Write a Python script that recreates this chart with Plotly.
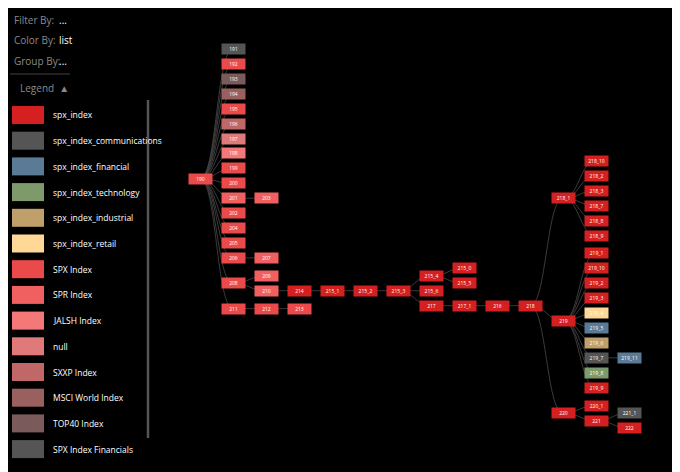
import plotly.graph_objects as go

# tree edges (parent -> child)
parents = ["190"] * 17 + ["201", "206", "208", "208", "210", "211", "212",
           "214", "215_1", "215_2", "215_3", "215_3", "215_3", "215_4", "215_4",
           "217", "217_1", "216", "218", "218", "218"] + ["218_1"] * 6 + ["219"] * 10 + \
          ["219_7", "220", "220", "221", "221"]
children = ["191", "192", "193", "194", "195", "196", "197", "198", "199", "200", "201",
            "202", "204", "205", "206", "208", "211", "203", "207", "209", "210", "214",
            "212", "213", "215_1", "215_2", "215_3", "215_4", "215_6", "217", "215_0",
            "215_5", "217_1", "216", "218", "218_1", "219", "220",
            "218_10", "218_2", "218_3", "218_7", "218_8", "218_9",
            "219_1", "219_10", "219_2", "219_3", "219_4", "219_5", "219_6", "219_7",
            "219_8", "219_9", "219_11", "220_1", "221", "221_1", "222"]

legend_names = ["spx_index", "spx_index_communications", "spx_index_financial",
                "spx_index_technology", "spx_index_industrial", "spx_index_retail",
                "SPX Index", "SPR Index", "JALSH Index", "null", "SXXP Index",
                "MSCI World Index", "TOP40 Index", "SPX Index Financials"]
legend_colors = ["#d42020", "#555555", "#5a7a96", "#7e9a6a", "#bf9f6a", "#ffd898",
                 "#ea4a4a", "#f06060", "#f47878", "#e07a7a", "#c06868", "#9a6060",
                 "#7a5a5a", "#555555"]

node_list = {
    "spx_index_communications": ["191", "219_7", "221_1"],
    "spx_index_financial": ["219_5", "219_11"],
    "spx_index_technology": ["219_8"],
    "spx_index_industrial": ["219_6"],
    "spx_index_retail": ["219_4"],
    "SPX Index": ["190", "192", "195", "199", "200", "202", "204", "205", "206", "208",
                  "211", "212", "213"],
    "SPR Index": ["201", "203", "207", "209", "210"],
    "JALSH Index": ["198"],
    "null": ["197"],
    "SXXP Index": ["196"],
    "MSCI World Index": ["194"],
    "TOP40 Index": ["193"],
}

color_of = dict(zip(legend_names, legend_colors))
node_color = {}
for cat, nodes in node_list.items():
    for n in nodes:
        node_color[n] = color_of[cat]

kids = {}
for p, c in zip(parents, children):
    kids.setdefault(p, []).append(c)


# simple tidy-tree layout with contours
def place(node):
    pos = {node: (0, 0.0)}
    cont = {0: (0.0, 0.0)}
    ch = kids.get(node, [])
    if not ch:
        return pos, cont
    offs, subs = [], []
    acc = {}
    for c in ch:
        p, ct = place(c)
        shift = 0.0
        if acc:
            shift = max(acc[d][1] - ct[d][0] + (1.0 if d == 0 else 1.2)
                        for d in ct if d in acc)
        for d, (lo, hi) in ct.items():
            lo, hi = lo + shift, hi + shift
            if d in acc:
                acc[d] = (min(acc[d][0], lo), max(acc[d][1], hi))
            else:
                acc[d] = (lo, hi)
        offs.append(shift)
        subs.append(p)
    mid = (offs[0] + offs[-1]) / 2
    for s, p in zip(offs, subs):
        for n, (dep, y) in p.items():
            pos[n] = (dep + 1, y + s - mid)
    for d, (lo, hi) in acc.items():
        cont[d + 1] = (lo - mid, hi - mid)
    return pos, cont


pos, _ = place("190")
ys = [v[1] for v in pos.values()]
ymin, ymax = min(ys), max(ys)
W, H = 680, 472
OFF = 8  # page body margin
k = (428 - 49) / (ymax - ymin)


def px(x):
    return (x - OFF) / W


def py(y):
    return 1 - (y - OFF) / H


fig = go.Figure()
shapes = []
for p, c in zip(parents, children):
    x0, y0 = pos[p]
    x1, y1 = pos[c]
    xm = (x0 + x1) / 2
    shapes.append(dict(type="path", xref="x", yref="y",
                       path=f"M {x0},{y0} C {xm},{y0} {xm},{y1} {x1},{y1}",
                       line=dict(color="#4a4a4a", width=0.8), layer="below"))

ann = []
for n, (d, y) in pos.items():
    ann.append(dict(x=d, y=y, xref="x", yref="y", text=n, showarrow=False,
                    width=22, height=9, bgcolor=node_color.get(n, "#d42020"),
                    borderpad=0.5, font=dict(size=5, color="white", family="Open Sans")))

# left panel
grey = "#8a8a8a"
for i, (lab, val) in enumerate([("Filter By:", "..."), ("Color By:", "list"), ("Group By:", "...")]):
    yy = 20 + i * 20.5
    ann.append(dict(x=px(12), y=py(yy), xref="paper", yref="paper", text=lab,
                    showarrow=False, xanchor="left", yanchor="middle",
                    font=dict(size=10, color=grey, family="Open Sans")))
    ann.append(dict(x=px(57), y=py(yy), xref="paper", yref="paper", text=val,
                    showarrow=False, xanchor="left", yanchor="middle",
                    font=dict(size=10, color="white", family="Open Sans")))
ann.append(dict(x=px(18), y=py(88), xref="paper", yref="paper", text="Legend  ▲",
                showarrow=False, xanchor="left", yanchor="middle",
                font=dict(size=10, color=grey, family="Open Sans")))
shapes.append(dict(type="line", xref="paper", yref="paper", x0=px(10), x1=px(70),
                   y0=py(74), y1=py(74), line=dict(color="#444", width=1)))
shapes.append(dict(type="line", xref="paper", yref="paper", x0=px(148), x1=px(148),
                   y0=py(100), y1=py(438), line=dict(color="#555", width=2.5)))
for i, (name, col) in enumerate(zip(legend_names, legend_colors)):
    yc = 115 + i * 25.7
    shapes.append(dict(type="rect", xref="paper", yref="paper", x0=px(12), x1=px(44),
                       y0=py(yc - 9), y1=py(yc + 9), fillcolor=col,
                       line=dict(width=0)))
    ann.append(dict(x=px(51), y=py(yc), xref="paper", yref="paper", text=name,
                    showarrow=False, xanchor="left", yanchor="middle",
                    font=dict(size=8.5, color="white", family="Open Sans")))

fig.add_trace(go.Scatter(x=[p[0] for p in pos.values()], y=[p[1] for p in pos.values()],
                         mode="markers", marker=dict(size=1, opacity=0), hoverinfo="skip"))

fig.update_layout(
    width=W, height=H, margin=dict(l=0, r=0, t=0, b=0),
    paper_bgcolor="black", plot_bgcolor="black", showlegend=False,
    shapes=shapes, annotations=ann,
    xaxis=dict(range=[-(200 - OFF) / 33, (W - 200 + OFF) / 33], visible=False),
    yaxis=dict(range=[ymax + (H - 428 + OFF) / k, ymin - (49 - OFF) / k], visible=False),
)
fig.write_html("out.html")
